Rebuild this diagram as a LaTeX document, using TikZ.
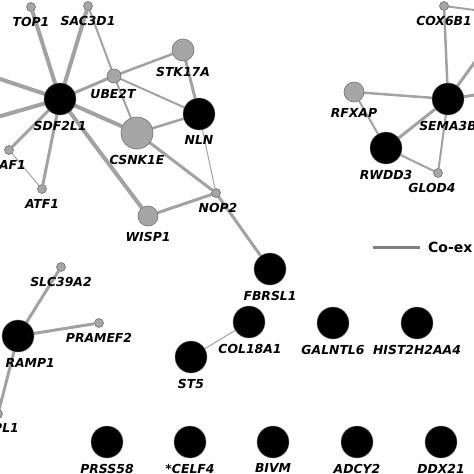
\documentclass[tikz,border=0pt]{standalone}
\usepackage{fontspec}
\setmainfont{DejaVu Sans}
\usetikzlibrary{positioning, backgrounds}
\definecolor{edgegray}{RGB}{162,162,162}
\definecolor{nodegray}{RGB}{166,166,166}
\definecolor{rimgray}{RGB}{112,112,112}
\definecolor{legendgray}{RGB}{128,128,128}
\newcommand{\genefont}{\fontsize{12.4}{12.4}\selectfont\bfseries\itshape}

\begin{document}
\begin{tikzpicture}[x=1pt, y=-1pt,
        gene/.style={circle, inner sep=0pt, label distance=0pt},
        hub/.style={gene, fill=black, draw=rimgray, line width=0.4pt, minimum size=32pt},
        partner/.style={gene, fill=nodegray, draw=rimgray, line width=0.6pt, minimum size=#1},
        partner/.default=9pt,
        coex/.style={draw=edgegray, line width=#1},
        every label/.style={font=\genefont, inner sep=1pt, yshift=-4.5pt}]
        \useasboundingbox (0,0) rectangle (474,474);

        % SDF2L1 cluster
        \node[hub, label=below:SDF2L1] (sdf) at (60,99) {};
        \node[partner, label=below:TOP1] (top) at (31,7) {};
        \node[partner, label=below:SAC3D1] (sac) at (88,6) {};
        \node[partner=14pt, label={[xshift=-1pt]below:UBE2T}] (ube) at (114,76) {};
        \node[partner=22pt, label=below:STK17A] (stk) at (183,50) {};
        \node[hub, label=below:NLN] (nln) at (199,114) {};
        \node[partner=32pt, label=below:CSNK1E] (csnk) at (137,133) {};
        \node[partner, label={[xshift=2pt]below:NOP2}] (nop) at (216,193) {};
        \node[partner=20pt, label=below:WISP1] (wisp) at (148,216) {};
        \node[partner, label=below:ATF1] (atf) at (42,189) {};
        \node[partner] (af) at (9,150) {};
        \node[font=\genefont, anchor=east, inner sep=0pt] (aflabel) at (26,165) {AF1};
        \coordinate (sdfwest1) at (-6,77);
        \coordinate (sdfwest2) at (-6,118);

        % SEMA3B cluster
        \node[hub, label=below:SEMA3B] (sema) at (448,99) {};
        \node[partner, label=below:COX6B1] (cox) at (444,6) {};
        \node[partner=20pt, label=below:RFXAP] (rfxap) at (354,92) {};
        \node[hub, label=below:RWDD3] (rwdd) at (386,148) {};
        \node[partner, label={[xshift=-6pt]below:GLOD4}] (glod) at (438,173) {};
        \coordinate (coxeast) at (482,11);
        \coordinate (semaeast1) at (482,52);
        \coordinate (semaeast2) at (482,94);

        % RAMP1 cluster
        \node[hub] (ramp) at (18,336) {};
        \node[font=\genefont, anchor=east, inner sep=0pt] (ramplabel) at (55,363) {RAMP1};
        \node[partner, label=below:SLC39A2] (slc) at (61,267) {};
        \node[partner, label=below:PRAMEF2] (pramef) at (99,323) {};
        \node[partner] (pl) at (-2,414) {};
        \node[font=\genefont, anchor=east, inner sep=0pt] (pllabel) at (19,428) {PL1};

        % other genes
        \node[hub, label=below:FBRSL1] (fbrsl) at (270,269) {};
        \node[hub, label={[xshift=1pt]below:COL18A1}] (col) at (249,322) {};
        \node[hub, label=below:ST5] (st) at (191,357) {};
        \node[hub, label=below:GALNTL6] (galntl) at (333,323) {};
        \node[hub, label=below:HIST2H2AA4] (hist) at (417,323) {};
        \node[hub, label=below:PRSS58] (prss) at (107,442) {};
        \node[hub, label=below:*CELF4] (celf) at (190,442) {};
        \node[hub, label=below:BIVM] (bivm) at (273,442) {};
        \node[hub, label=below:ADCY2] (adcy) at (357,442) {};
        \node[hub, label=below:DDX21] (ddx) at (441,442) {};

        % co-expression links, behind the genes
        \begin{scope}[on background layer]
        \foreach \a/\b/\w in {sdf/top/4, sdf/sac/4, sdf/sdfwest1/4, sdf/sdfwest2/4,
                sdf/ube/3, sdf/csnk/4, sdf/wisp/4, sdf/atf/3, sdf/af/3, af/atf/1,
                sac/ube/2, ube/stk/2.5, ube/nln/2, ube/csnk/2, stk/nln/3,
                csnk/nln/2.5, csnk/nop/3, nln/nop/1, nop/wisp/3, nop/fbrsl/3,
                rfxap/sema/2.5, rfxap/rwdd/2, rwdd/sema/3, rwdd/glod/2, sema/glod/2,
                sema/cox/2.5, cox/coxeast/2, sema/semaeast1/3, sema/semaeast2/3,
                ramp/slc/3, ramp/pramef/3, ramp/pl/3, st/col/1}
            \draw[coex=\w pt] (\a.center) -- (\b);
        \end{scope}

        % legend
        \node[font=\fontsize{14}{14}\selectfont\bfseries, anchor=west, inner sep=0pt] (legtext) at (428,247) {Co-ex};
        \coordinate (legfrom) at (373,247);
        \draw[legendgray, line width=3pt] (legfrom) -- ([xshift=-8pt]legtext.west);
    \end{tikzpicture}
\end{document}
